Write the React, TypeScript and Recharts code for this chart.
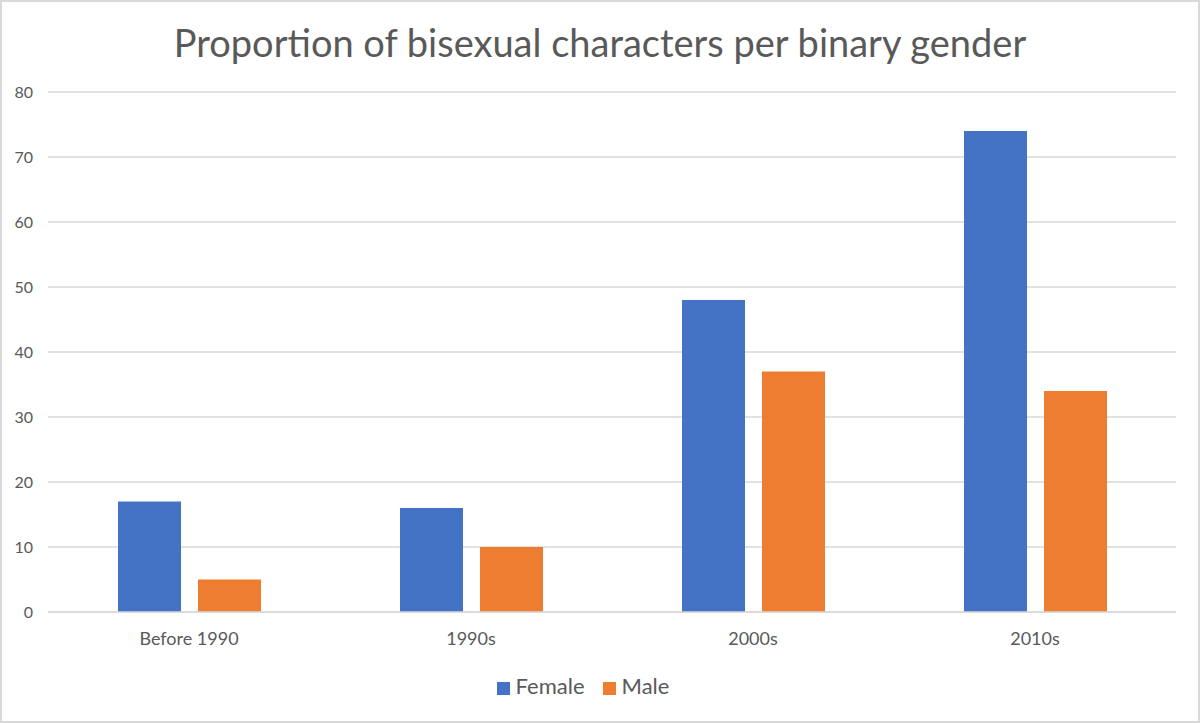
import { BarChart, Bar, XAxis, YAxis, CartesianGrid, Legend } from "recharts"

const periods = ["Before 1990", "1990s", "2000s", "2010s"]
const femaleShare = [17, 16, 48, 74]
const maleShare = [5, 10, 37, 34]
const yTicks = [0, 10, 20, 30, 40, 50, 60, 70, 80]

const data = periods.map((period, i) => ({
  period,
  Female: femaleShare[i],
  Male: maleShare[i],
}))

const grey = "#595959"
const font = "Lato, 'Open Sans', sans-serif"

export default function App() {
  return (
    <div
      style={{
        position: "fixed",
        top: 0,
        left: 0,
        width: 1200,
        height: 723,
        background: "#fff",
        boxSizing: "border-box",
        border: "2px solid #d9d9d9",
        fontFamily: font,
      }}
    >
      <div
        style={{
          position: "absolute",
          top: 17,
          left: 0,
          width: "100%",
          textAlign: "center",
          fontSize: 38,
          color: grey,
        }}
      >
        Proportion of bisexual characters per binary gender
      </div>
      <div style={{ position: "absolute", top: -2, left: -2 }}>
        <BarChart
          width={1200}
          height={723}
          data={data}
          margin={{ top: 92, right: 24, left: 0, bottom: 54 }}
          barGap={17}
          barSize={63}
        >
          <CartesianGrid vertical={false} stroke="#d9d9d9" strokeWidth={1.5} />
          <XAxis
            dataKey="period"
            axisLine={{ stroke: "#d9d9d9", strokeWidth: 1.5 }}
            tickLine={false}
            tickMargin={14}
            tick={{ fill: grey, fontSize: 18, fontFamily: font }}
          />
          <YAxis
            width={48}
            domain={[0, 80]}
            ticks={yTicks}
            axisLine={false}
            tickLine={false}
            tickSize={0}
            tickMargin={15}
            tick={{ fill: grey, fontSize: 16, fontFamily: font }}
          />
          <Legend
            verticalAlign="bottom"
            iconType="square"
            iconSize={13}
            wrapperStyle={{ bottom: 24, fontSize: 22, fontFamily: font }}
            formatter={(value) => (
              <span style={{ color: grey, marginLeft: 2, marginRight: value === "Female" ? 8 : 0 }}>{value}</span>
            )}
          />
          <Bar dataKey="Female" fill="#4472C4" isAnimationActive={false} />
          <Bar dataKey="Male" fill="#ED7D31" isAnimationActive={false} />
        </BarChart>
      </div>
    </div>
  )
}
